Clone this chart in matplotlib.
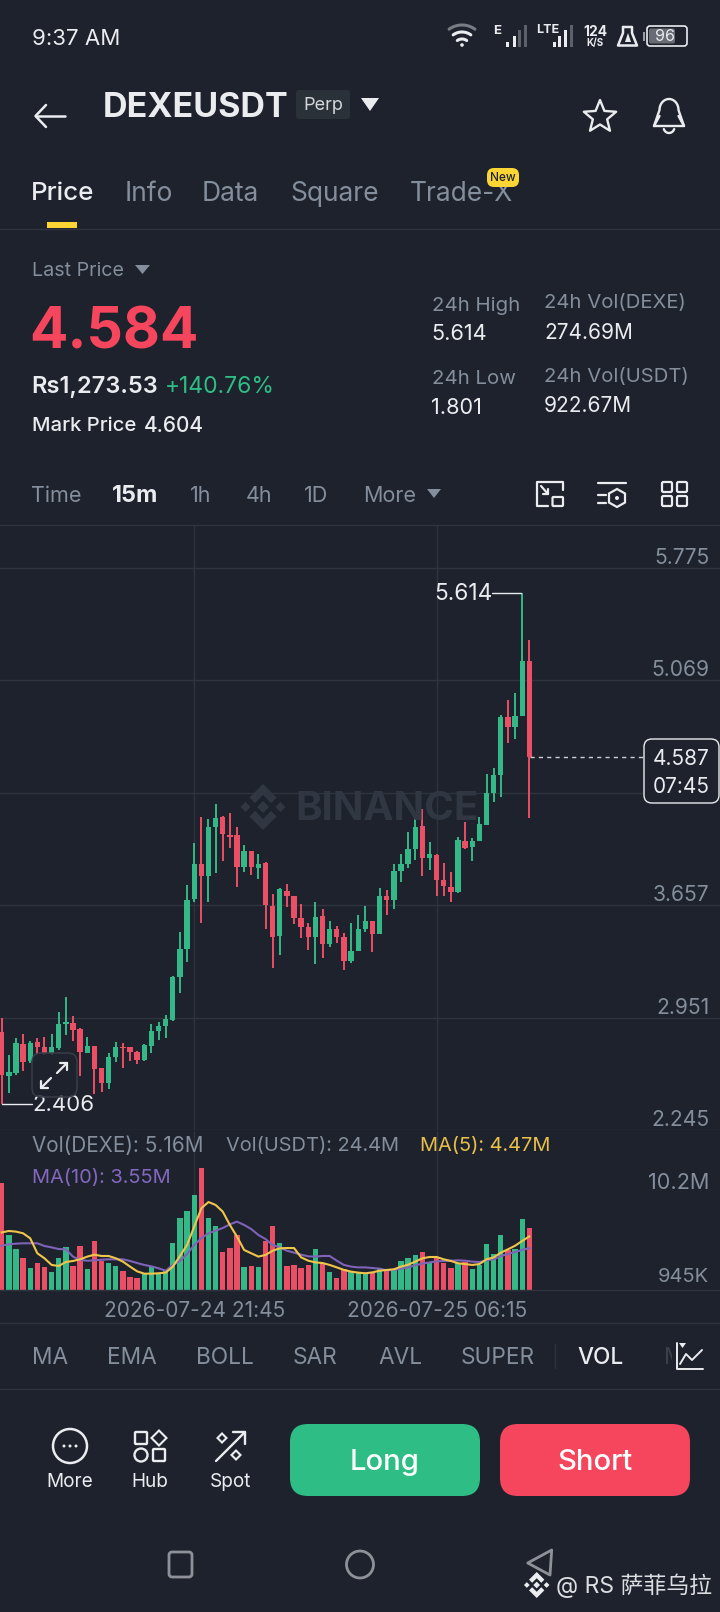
import numpy as np
import matplotlib
matplotlib.use('Agg')
import matplotlib.pyplot as plt
from matplotlib.patches import FancyBboxPatch, Rectangle, Circle, Polygon

# candles, 15m
opens = [2.858,2.584,2.605,2.785,2.678,2.795,2.764,2.726,2.762,2.910,2.914,2.881,2.730,2.772,2.632,2.538,2.701,2.766,2.764,2.732,
         2.684,2.774,2.868,2.898,2.935,3.207,3.381,3.693,3.912,3.841,4.149,4.207,4.096,4.096,3.894,3.994,3.891,3.919,3.653,3.463,
         3.747,3.712,3.574,3.517,3.458,3.588,3.410,3.509,3.458,3.304,3.371,3.504,3.559,3.475,3.714,3.689,3.873,3.914,4.011,4.153,
         3.950,3.973,3.814,3.772,3.737,4.061,4.019,4.059,4.159,4.362,4.471,4.837,4.772,4.843,5.191]
highs = [2.946,2.716,2.820,2.845,2.806,2.820,2.831,2.848,2.988,3.082,2.961,2.883,2.827,2.774,2.636,2.726,2.795,2.789,2.768,2.743,
         2.785,2.908,2.923,2.965,3.212,3.490,3.783,4.048,4.212,4.195,4.289,4.216,4.232,4.149,4.032,3.996,3.977,3.925,3.726,3.762,
         3.789,3.714,3.661,3.542,3.678,3.634,3.557,3.525,3.479,3.542,3.594,3.651,3.559,3.762,3.751,3.914,3.975,4.113,4.237,4.260,
         4.050,3.975,3.919,3.862,4.086,4.176,4.080,4.207,4.477,4.519,4.848,4.944,4.990,5.614,5.320]
lows = [2.406,2.475,2.590,2.617,2.663,2.716,2.716,2.716,2.747,2.841,2.806,2.586,2.726,2.469,2.486,2.504,2.674,2.636,2.680,2.657,
        2.680,2.726,2.810,2.820,2.929,3.103,3.302,3.678,3.546,3.674,3.856,3.933,4.017,3.768,3.866,3.845,3.822,3.507,3.260,3.343,
        3.642,3.536,3.452,3.375,3.287,3.322,3.396,3.417,3.249,3.295,3.368,3.490,3.364,3.473,3.592,3.632,3.804,3.887,3.940,3.839,
        3.877,3.714,3.714,3.674,3.735,4.007,3.933,4.059,4.159,4.306,4.337,4.676,4.697,4.843,4.201]
closes = [2.590,2.609,2.789,2.674,2.793,2.764,2.726,2.768,2.910,2.925,2.873,2.737,2.774,2.630,2.538,2.705,2.768,2.760,2.735,2.684,
          2.776,2.868,2.898,2.940,3.205,3.379,3.689,3.912,3.841,4.149,4.201,4.101,4.086,3.894,3.996,3.894,3.912,3.655,3.458,3.755,
          3.716,3.574,3.517,3.458,3.580,3.412,3.509,3.458,3.304,3.366,3.507,3.559,3.475,3.714,3.689,3.873,3.914,4.007,4.149,3.950,
          3.977,3.814,3.779,3.737,4.065,4.017,4.061,4.163,4.362,4.471,4.839,4.776,4.843,5.191,4.588]

# volume in millions
vols = [8.66,4.60,3.51,2.78,2.00,2.42,2.11,1.69,2.76,3.61,2.16,3.74,1.90,4.08,2.52,2.39,2.16,1.74,1.33,1.20,
        1.53,2.05,1.59,1.74,3.93,5.88,6.42,7.70,9.83,5.88,5.28,3.22,3.59,4.58,2.08,2.13,2.05,4.11,5.30,3.95,
        2.18,2.24,1.98,2.26,3.48,2.42,1.66,1.25,1.90,1.79,1.72,1.59,1.72,1.98,1.85,1.85,2.55,2.76,3.02,3.25,
        2.37,2.76,2.42,1.98,2.42,2.50,1.92,2.24,3.87,3.09,4.55,3.41,3.46,5.82,5.16]
ma5 = [4.78,4.89,4.84,4.71,4.32,3.15,2.76,2.24,2.16,2.47,2.55,2.68,2.89,3.04,2.94,2.94,2.76,2.50,2.11,1.74,
       1.56,1.56,1.59,1.64,2.11,2.94,3.80,5.23,6.66,7.15,6.92,6.40,5.36,4.45,3.41,3.15,2.89,3.02,3.35,3.54,
       3.56,3.56,2.83,2.57,2.44,2.39,2.24,2.05,1.85,1.72,1.64,1.59,1.66,1.79,1.85,1.90,2.11,2.26,2.50,2.76,
       2.86,2.86,2.68,2.55,2.37,2.31,2.24,2.31,2.68,2.83,3.20,3.46,3.74,4.11,4.47]
ma10 = [3.74,3.85,3.90,3.93,3.93,3.93,3.72,3.61,3.48,3.46,2.89,2.63,2.57,2.60,2.65,2.68,2.68,2.68,2.55,2.39,
        2.24,2.13,1.98,1.79,2.24,2.55,3.09,3.80,4.32,4.71,4.91,5.12,5.41,5.62,5.36,5.04,4.58,4.26,3.80,3.61,
        3.35,3.20,3.04,2.91,2.89,2.94,2.94,2.57,2.24,2.11,2.05,2.05,2.00,1.95,1.82,1.85,1.95,2.05,2.21,2.34,
        2.44,2.52,2.55,2.57,2.60,2.57,2.50,2.47,2.60,2.68,2.94,3.09,3.25,3.41,3.55]

price_ticks = [5.775, 5.069, 4.363, 3.657, 2.951, 2.245]
price_labels = ['5.775', '5.069', '', '3.657', '2.951', '2.245']  # 4.363 sits behind the price tag
date_pos = [27, 61]
date_labels = ['2026-07-24 21:45', '2026-07-25 06:15']

BG = '#1d222c'
GRID = '#2e343e'
GREEN = '#2ebd85'
RED = '#f6465d'
CANDLE_GREEN = '#35b888'
CANDLE_RED = '#ea4f65'
GRAY = '#848e9c'
WHITE = '#eaecef'
YELLOW = '#fcd535'
MARK = '#313742'

plt.rcParams['font.family'] = ['Inter', 'Noto Sans CJK SC', 'DejaVu Sans']

W, H = 720, 1612
fig = plt.figure(figsize=(W / 100, H / 100), dpi=100, facecolor=BG)


def box(top, bottom):
    return [0, 1 - bottom / H, 1, (bottom - top) / H]


x = np.arange(len(opens))
xlim = (-0.238, 100.74)
opens = np.array(opens)
closes = np.array(closes)
colors = [CANDLE_GREEN if c >= o else CANDLE_RED for o, c in zip(opens, closes)]

# price pane
ax = fig.add_axes(box(525, 1130), facecolor=BG)
ax.set_xlim(xlim)
ax.set_ylim(2.245, 6.042)
ax.set_xticks(date_pos)
ax.set_xticklabels([])
ax.set_yticks(price_ticks)
ax.set_yticklabels([])
ax.tick_params(length=0)
ax.grid(True, color=GRID, lw=1)
ax.set_axisbelow(True)
for s in ax.spines.values():
    s.set_visible(False)
for v, lab in zip(price_ticks, price_labels):
    ax.annotate(lab, xy=(1, v), xycoords=('axes fraction', 'data'), xytext=(-7.5, 7),
                textcoords='offset points', ha='right', va='center', color=GRAY, fontsize=15.2)
ax.vlines(x, lows, highs, colors=colors, lw=1.4, zorder=3)
ax.bar(x, np.abs(closes - opens), bottom=np.minimum(opens, closes), width=0.75, color=colors, zorder=4)

# volume pane
ax2 = fig.add_axes(box(1131, 1290), facecolor=BG)
ax2.set_xlim(xlim)
ax2.set_ylim(0.286, 12.69)
ax2.set_yticks([])
ax2.set_xticks(date_pos)
ax2.set_xticklabels(date_labels, color=GRAY, fontsize=15)
ax2.tick_params(axis='x', length=0, pad=8)
ax2.grid(True, axis='x', color=GRID, lw=1)
ax2.set_axisbelow(True)
for s in ax2.spines.values():
    s.set_visible(False)
ax2.bar(x, vols, width=0.75, color=colors, zorder=3)
ax2.plot(x, ma10, color='#7e63b8', lw=1.5, zorder=4)
ax2.plot(x, ma5, color='#f0c64a', lw=1.5, zorder=5)

# everything else is drawn in pixel coordinates on top
ui = fig.add_axes([0, 0, 1, 1], facecolor='none')
ui.set_xlim(0, W)
ui.set_ylim(H, 0)
ui.axis('off')


def txt(px, py, s, size=14, color=WHITE, ha='left', weight='normal', **kw):
    ui.text(px, py + size * 0.14, s, fontsize=size, color=color, ha=ha, va='center', fontweight=weight, **kw)


def line(xs, ys, color=WHITE, lw=1.5, **kw):
    ui.plot(xs, ys, color=color, lw=lw, solid_capstyle='round', **kw)


def rbox(x0, y0, x1, y1, r, fc='none', ec='none', lw=1.0, z=5):
    ui.add_patch(FancyBboxPatch((x0 + r, y0 + r), x1 - x0 - 2 * r, y1 - y0 - 2 * r,
                                boxstyle='round,pad=%f,rounding_size=%f' % (r, r),
                                fc=fc, ec=ec, lw=lw, zorder=z))


def diamond(cx, cy, r, fc='none', ec=WHITE, lw=1.5, z=5):
    ui.add_patch(Polygon([(cx - r, cy), (cx, cy - r), (cx + r, cy), (cx, cy + r)], closed=True,
                         fc=fc, ec=ec, lw=lw, zorder=z))


def logo(cx, cy, r, color, z):
    # exchange mark: two chevrons and three diamonds
    for d in [-1, 1]:
        pts = [(0, -1), (0.59, -0.41), (0.35, -0.17), (0, -0.52), (-0.35, -0.17), (-0.59, -0.41)]
        ui.add_patch(Polygon([(cx + r * a, cy + d * r * b) for a, b in pts], fc=color, ec='none', zorder=z))
        diamond(cx + d * 0.76 * r, cy, 0.22 * r, fc=color, ec='none', z=z)
    diamond(cx, cy, 0.26 * r, fc=color, ec='none', z=z)


# status bar
txt(32, 36.5, '9:37 AM', 16)
th = np.radians(np.linspace(-36, 36, 20))
for r, c in [(8, WHITE), (15, WHITE), (22, '#787d85')]:
    line(462 + r * np.sin(th), 47 - r * np.cos(th), color=c, lw=2.2)
ui.add_patch(Circle((462, 45), 1.8, fc=WHITE))
txt(497.5, 29.5, 'E', 9.5, ha='center', weight='bold')
txt(547.5, 29, 'LTE', 9, ha='center', weight='bold')
for xs, lit in [([507.7, 514, 519.5, 525], 2), ([554, 559.5, 565, 571], 3)]:
    for i, (bx, bh) in enumerate(zip(xs, [5, 11, 17, 22])):
        ui.add_patch(Rectangle((bx - 1.5, 46.7 - bh), 3, bh, fc=WHITE if i < lit else '#5b6069', zorder=3))
txt(595, 30.5, '124', 10, ha='center', weight='bold')
txt(595, 42.5, 'K/S', 7, ha='center', weight='bold')
line([623, 632, 632, 637, 618, 623, 623], [27, 27, 33, 45.5, 45.5, 33, 27], lw=1.8)
ui.add_patch(Polygon([(628, 33), (631, 42), (625, 42)], fc=WHITE))
rbox(647, 26, 687, 46, 3, ec=WHITE, lw=1.2)
rbox(649, 28.5, 675, 43.5, 2, fc='#686c74')
txt(665, 34.5, '96', 11.5, ha='center', zorder=6)
ui.add_patch(Rectangle((642.5, 32), 2, 9, fc='#9a9da3'))

# header
line([36, 65], [116, 116], lw=1.8)
line([46, 35.5, 46], [105, 116, 127], lw=1.8)
txt(103, 104.5, 'DEXEUSDT', 24.5, weight='bold')
rbox(296, 90, 350, 119, 3, fc='#2b3139')
txt(323, 103.5, 'Perp', 13, '#d4d7dc', ha='center', zorder=6)
ui.add_patch(Polygon([(361, 98), (379, 98), (370, 111)], fc=WHITE))
ang = np.radians(np.arange(10) * 36 - 90)
rad = np.where(np.arange(10) % 2 == 0, 17, 7.5)
ui.add_patch(Polygon(np.c_[600 + rad * np.cos(ang), 117 + rad * np.sin(ang)], closed=True, fc='none', ec=WHITE, lw=1.7, joinstyle='round'))
tb = np.radians(np.linspace(180, 360, 30))
line(np.r_[654, 669 + 9.5 * np.cos(tb), 684, 654], np.r_[126, 110 + 11 * np.sin(tb), 126, 126], lw=1.7)
line([654, 659.5], [126, 116], lw=1.7)
line([684, 678.5], [126, 116], lw=1.7)
tc = np.radians(np.linspace(20, 160, 20))
line(669 + 5.5 * np.cos(tc), 127 + 6 * np.sin(tc), lw=1.7)

# tabs
txt(31, 191, 'Price', 18.7, WHITE, weight='medium')
for px, s in [(125, 'Info'), (202, 'Data'), (290, 'Square'), (410, 'Trade-X')]:
    txt(px, 191, s, 19, GRAY)
ui.add_patch(Rectangle((47, 222), 30, 6, fc=YELLOW))
rbox(487, 168, 519, 187, 7, fc=YELLOW, z=6)
txt(503, 176.5, 'New', 8.5, '#1d222c', ha='center', weight='medium', zorder=7)
line([0, W], [228.5, 228.5], color=GRID, lw=1)

# price block
txt(32, 269, 'Last Price', 14.2, GRAY)
ui.add_patch(Polygon([(135, 265), (150, 265), (142.5, 274)], fc=GRAY))
txt(29, 328, '4.584', 41, RED, weight='bold')
txt(31.5, 385, 'Rs1,273.53', 17, WHITE, weight='semibold')
txt(165, 385, '+140.76%', 16.5, GREEN)
txt(32, 424, 'Mark Price', 14.6, WHITE, weight='medium')
txt(144, 424, '4.604', 15, WHITE, weight='medium')
txt(431.5, 304, '24h High', 14.7, GRAY)
txt(431.5, 332, '5.614', 15.6, WHITE)
txt(431.5, 377, '24h Low', 14.7, GRAY)
txt(431.5, 406, '1.801', 15.6, WHITE)
txt(544, 301, '24h Vol(DEXE)', 14.6, GRAY)
txt(544, 330.5, '274.69M', 15, WHITE)
txt(544, 375, '24h Vol(USDT)', 14.6, GRAY)
txt(544, 404, '922.67M', 15, WHITE)

# interval row
txt(30.5, 493.5, 'Time', 15.5, GRAY)
txt(112, 493.5, '15m', 16.8, WHITE, weight='bold')
txt(190, 493.5, '1h', 15.5, GRAY)
txt(245.5, 493.5, '4h', 15.5, GRAY)
txt(303.5, 493.5, '1D', 15.5, GRAY)
txt(363, 493.5, 'More', 15.5, GRAY)
ui.add_patch(Polygon([(427, 489), (441, 489), (434, 498)], fc=GRAY))
# toolbar icons
line([563, 563, 537, 537, 548], [490, 482, 482, 506, 506], lw=1.6)
rbox(552.5, 497, 563, 506, 1, ec=WHITE, lw=1.6)
line([541, 548], [486, 494], lw=1.6)
line([548, 548], [489, 494], lw=1.6)
line([543, 548], [494, 494], lw=1.6)
line([598, 626], [483, 483], lw=1.6)
line([598, 606], [495, 495], lw=1.6)
line([598, 606], [503, 503], lw=1.6)
ui.add_patch(Polygon([(617, 489), (625, 493.5), (625, 502.5), (617, 507), (609, 502.5), (609, 493.5)], fc='none', ec=WHITE, lw=1.6))
ui.add_patch(Circle((617, 498), 2, fc=WHITE))
for px, py in [(662, 482), (677, 482), (662, 496), (677, 496)]:
    rbox(px, py, px + 10, py + 10, 1.5, ec=WHITE, lw=1.6)
line([0, W], [525, 525], color=GRID, lw=1)

# price chart annotations
logo(263, 807, 23, MARK, 1)
txt(295, 805, 'BINANCE', 29, MARK, weight='bold', zorder=1)

txt(434.5, 592, '5.614', 16.3, WHITE)
line([492, 521], [593, 593], lw=1)
txt(32, 1103, '2.406', 16, WHITE)
line([2, 32], [1104, 1104], lw=1)
rbox(32, 1053, 77, 1097, 9, fc='#1d222ccc', ec='#3a404a', lw=1)
line([41, 51], [1088, 1078], lw=1.6, zorder=6)
line([41, 41], [1081, 1088], lw=1.6, zorder=6)
line([41, 48], [1088, 1088], lw=1.6, zorder=6)
line([57, 67], [1073, 1063], lw=1.6, zorder=6)
line([60, 67], [1063, 1063], lw=1.6, zorder=6)
line([67, 67], [1063, 1070], lw=1.6, zorder=6)

line([530, 644], [757, 757], color='#cdd0d5', lw=1, linestyle=(0, (3, 3)))
rbox(644, 739, 719, 803, 8, fc=BG, ec=WHITE, lw=1, z=6)
txt(681, 756.5, '4.587', 15, WHITE, ha='center', zorder=7)
txt(681, 784.5, '07:45', 15, WHITE, ha='center', zorder=7)

# volume legend
txt(32, 1143.5, 'Vol(DEXE): 5.16M', 14.9, GRAY)
txt(225.5, 1143.5, 'Vol(USDT): 24.4M', 14.4, GRAY)
txt(419.5, 1143.5, 'MA(5): 4.47M', 14.4, '#e8bf4a')
txt(32, 1175.5, 'MA(10): 3.55M', 14.4, '#8468c0')
txt(709, 1181, '10.2M', 15.6, GRAY, ha='right')
txt(709, 1275, '945K', 14.5, GRAY, ha='right')
line([0, W], [1290, 1290], color=GRID, lw=1)
line([0, W], [1322.5, 1322.5], color=GRID, lw=1)

# indicator row
for px, s in [(32, 'MA'), (107, 'EMA'), (196, 'BOLL'), (293, 'SAR'), (378, 'AVL'), (461, 'SUPER')]:
    txt(px, 1356, s, 16.3, GRAY)
line([555, 555], [1344, 1368], color=GRID, lw=1)
txt(577, 1356, 'VOL', 16.3, WHITE, weight='medium')
txt(664, 1356, 'M', 16.3, '#3a404a')
ui.add_patch(Rectangle((672, 1340), 34, 34, fc=BG, ec='none', zorder=3))
line([677, 677, 703], [1343, 1369, 1369], lw=1.4, zorder=4)
line([680, 686, 692, 702], [1364, 1354, 1360, 1350], lw=1.4, zorder=4)
ui.add_patch(Polygon([(679, 1343), (686, 1343), (682.5, 1348)], fc=WHITE, zorder=4))
line([0, W], [1389, 1389], color=GRID, lw=1)

# bottom actions
ui.add_patch(Circle((70, 1446), 17, fc='none', ec=WHITE, lw=1.8))
for dx in [-6, 0, 6]:
    ui.add_patch(Circle((70 + dx, 1446), 1.5, fc=WHITE))
txt(70, 1480.5, 'More', 13.7, WHITE, ha='center')
rbox(135, 1432, 147, 1444, 1, ec=WHITE, lw=1.7)
diamond(159, 1438, 7.5)
ui.add_patch(Circle((141, 1455), 6.5, fc='none', ec=WHITE, lw=1.7))
rbox(153, 1449, 165, 1461, 1, ec=WHITE, lw=1.7)
txt(150, 1480.5, 'Hub', 13.7, WHITE, ha='center')
diamond(222, 1438, 4.5)
diamond(236, 1455, 4.5)
line([216, 244], [1461, 1433], lw=1.7)
line([233, 245], [1432, 1432], lw=1.7)
line([245, 245], [1432, 1444], lw=1.7)
txt(230.5, 1480.5, 'Spot', 13.7, WHITE, ha='center')
rbox(290, 1424, 480, 1496, 18, fc=GREEN)
txt(384.5, 1459.5, 'Long', 21, 'white', ha='center', weight='medium', zorder=6)
rbox(500, 1424, 690, 1496, 18, fc=RED)
txt(595, 1459.5, 'Short', 21, 'white', ha='center', weight='medium', zorder=6)

# nav bar and watermark
NAV = '#8e9198'
rbox(169, 1552, 192, 1577, 3, ec=NAV, lw=2)
ui.add_patch(Circle((360, 1564.5), 13.5, fc='none', ec=NAV, lw=2))
ui.add_patch(Polygon([(551.7, 1550), (550, 1575), (527.7, 1563)], closed=True, fc='none', ec=NAV, lw=2, joinstyle='round'))
logo(536.7, 1585, 13, WHITE, 6)
txt(556, 1583, '@ RS 萨菲乌拉', 16.5, '#dcdee1', zorder=6)

fig.savefig('out.png', dpi=100, facecolor=BG)
